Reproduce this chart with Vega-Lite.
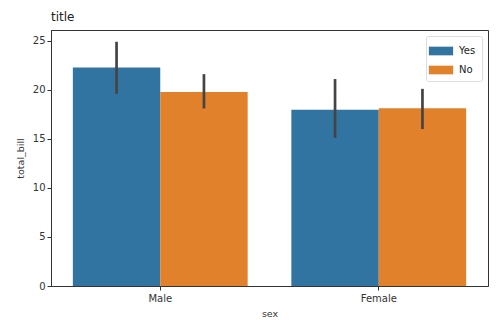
{
  "$schema": "https://vega.github.io/schema/vega-lite/v6.json",
  "width": 437,
  "height": 256,
  "autosize": {"type": "none"},
  "padding": {"left": 51, "top": 30, "right": 12, "bottom": 47},
  "background": "white",
  "title": {"text": "title", "anchor": "start", "frame": "group", "fontSize": 12, "fontWeight": "normal", "font": "DejaVu Sans", "color": "#222", "offset": 6},
  "config": {
    "view": {"stroke": "#333", "strokeWidth": 1},
    "axis": {"labelFont": "DejaVu Sans", "titleFont": "DejaVu Sans", "labelFontSize": 10, "titleFontSize": 9.5, "titleFontWeight": "normal", "labelColor": "#333", "titleColor": "#333", "tickColor": "#333", "domainColor": "#333", "grid": false, "tickSize": 4}
  },
  "data": {"values": [
    {"sex": "Male", "smoker": "Yes", "total_bill": 22.28, "lo": 19.6, "hi": 24.9},
    {"sex": "Male", "smoker": "No", "total_bill": 19.79, "lo": 18.1, "hi": 21.6},
    {"sex": "Female", "smoker": "Yes", "total_bill": 17.98, "lo": 15.1, "hi": 21.1},
    {"sex": "Female", "smoker": "No", "total_bill": 18.11, "lo": 16.0, "hi": 20.1}
  ]},
  "encoding": {
    "x": {"field": "sex", "type": "nominal", "sort": ["Male", "Female"], "title": "sex",
      "scale": {"paddingInner": 0.2, "paddingOuter": 0.1},
      "axis": {"labelAngle": 0, "titleY": 22, "labelPadding": 3}},
    "xOffset": {"field": "smoker", "type": "nominal", "sort": ["Yes", "No"], "scale": {"paddingInner": 0, "paddingOuter": 0}}
  },
  "layer": [
    {
      "mark": {"type": "bar"},
      "encoding": {
        "y": {"field": "total_bill", "type": "quantitative", "title": "total_bill", "scale": {"domain": [0, 26.1], "nice": false}, "axis": {"values": [0, 5, 10, 15, 20, 25], "titlePadding": 7}},
        "color": {"field": "smoker", "type": "nominal", "sort": ["Yes", "No"], "title": null,
          "scale": {"domain": ["Yes", "No"], "range": ["#3274a1", "#e1812c"]},
          "legend": {"orient": "top-right", "offset": 6, "strokeColor": "#ddd", "fillColor": "white", "padding": 6, "cornerRadius": 2, "labelFont": "DejaVu Sans", "labelFontSize": 10, "labelColor": "#222", "labelOffset": 9, "symbolType": "M-1.4,-0.5H1.4V0.5H-1.4Z", "symbolSize": 300, "symbolStrokeWidth": 0, "symbolOpacity": 1, "rowPadding": 5}}
      }
    },
    {
      "mark": {"type": "rule", "color": "#444", "strokeWidth": 2.7},
      "encoding": {
        "y": {"field": "lo", "type": "quantitative"},
        "y2": {"field": "hi"}
      }
    }
  ]
}
